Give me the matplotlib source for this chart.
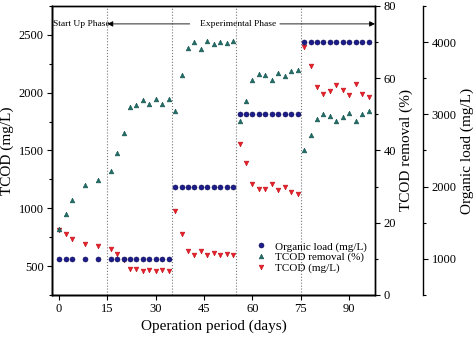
import numpy as np
import matplotlib.pyplot as plt
from matplotlib.ticker import MultipleLocator

plt.rcParams['font.family'] = ['Liberation Serif', 'DejaVu Serif']

# ---- data ----
# organic load (mg/L), right-most axis
load_days = [0, 2, 4, 8, 12] + list(range(16, 35, 2)) + list(range(36, 55, 2)) \
    + list(range(56, 75, 2)) + list(range(76, 97, 2))
load_vals = [1000] * 15 + [2000] * 10 + [3000] * 10 + [4000] * 11

# TCOD removal (%)
rem_days = [0, 2, 4, 8, 12] + list(range(16, 97, 2))
rem_vals = [18.4, 22.3, 26.4, 30.5, 31.9, 34.2, 39.4, 44.8, 51.9, 52.6, 53.9, 52.8, 54.2, 52.8, 54.3,
            50.8, 60.9, 68.4, 70.0, 68.1, 70.2, 69.4, 70.1, 69.8, 70.3,
            48.1, 53.6, 59.6, 61.1, 60.9, 59.4, 61.5, 60.6, 62.0, 62.3,
            40.0, 44.2, 48.6, 50.1, 49.5, 48.2, 49.4, 50.4, 48.1, 50.2, 50.8]

# TCOD (mg/L)
tcod_days = rem_days
tcod_vals = [811, 774, 731, 693, 673, 650, 601, 552, 477, 471, 459, 468, 454, 465, 454,
             979, 777, 630, 598, 633, 595, 613, 595, 601, 593,
             1554, 1389, 1210, 1164, 1169, 1213, 1158, 1181, 1141, 1126,
             2394, 2232, 2052, 1992, 2015, 2067, 2026, 1983, 2073, 1992, 1966]

phase_lines = [15, 35, 55, 75]

fig = plt.figure(figsize=(4.74, 3.40), dpi=100)
ax = fig.add_axes([0.1097, 0.1324, 0.6814, 0.8500])
ax2 = ax.twinx()
ax3 = ax.twinx()
ax3.spines['right'].set_position(('axes', 1.149))
ax3.spines['top'].set_visible(False)

for d in phase_lines:
    ax.axvline(d, color='#777777', ls=':', lw=0.8, zorder=0)

h_tcod, = ax.plot(tcod_days, tcod_vals, 'v', color='#e8202a', ms=3.4, mec='#c01018', mew=0.4,
                  ls='none', label='TCOD (mg/L)')
h_rem, = ax2.plot(rem_days, rem_vals, '^', color='#1f6e68', ms=3.4, mec='#17504b', mew=0.4,
                  ls='none', label='TCOD removal (%)')
h_load, = ax3.plot(load_days, load_vals, 'o', color='#1c1c8a', ms=3.6, mec='#0c0c55', mew=0.4,
                   ls='none', label='Organic load (mg/L)')

ax.set_xlim(-2.2, 98)
ax.set_ylim(250, 2750)
ax2.set_ylim(0, 80)
ax3.set_ylim(500, 4500)

ax.xaxis.set_major_locator(MultipleLocator(15))
ax.yaxis.set_major_locator(MultipleLocator(500))
ax.yaxis.set_minor_locator(MultipleLocator(250))
ax2.yaxis.set_major_locator(MultipleLocator(20))
ax2.yaxis.set_minor_locator(MultipleLocator(10))
ax3.yaxis.set_major_locator(MultipleLocator(1000))
ax3.yaxis.set_minor_locator(MultipleLocator(500))

for a in (ax, ax2, ax3):
    a.tick_params(which='major', direction='out', length=3.5, width=0.8, labelsize=9, pad=2.5)
    a.tick_params(which='minor', direction='out', length=2, width=0.8)
    for s in a.spines.values():
        s.set_linewidth(1.0)

ax.set_xlabel('Operation period (days)', fontsize=11, labelpad=3)
ax.set_ylabel('TCOD (mg/L)', fontsize=11, labelpad=3)
ax2.set_ylabel('TCOD removal (%)', fontsize=11, labelpad=3)
ax3.set_ylabel('Organic load (mg/L)', fontsize=11, labelpad=3)

# phase annotations
ax.text(-1.8, 2595, 'Start Up Phase', fontsize=6.8, va='center', ha='left')
ax.annotate('', xy=(15, 2595), xytext=(40.5, 2595),
            arrowprops=dict(arrowstyle='-|>', color='k', lw=0.6, mutation_scale=8,
                            shrinkA=0, shrinkB=0))
ax.text(43.8, 2595, 'Experimental Phase', fontsize=6.8, va='center', ha='left')
ax.annotate('', xy=(98, 2595), xytext=(68.5, 2595),
            arrowprops=dict(arrowstyle='-|>', color='k', lw=0.6, mutation_scale=8,
                            shrinkA=0, shrinkB=0))

ax.legend(handles=[h_load, h_rem, h_tcod], loc='lower left', bbox_to_anchor=(0.605, 0.05),
          frameon=False, fontsize=8, handlelength=1.0, handletextpad=0.8,
          labelspacing=0.05, borderpad=0.2)

fig.savefig('out.png', dpi=100)
